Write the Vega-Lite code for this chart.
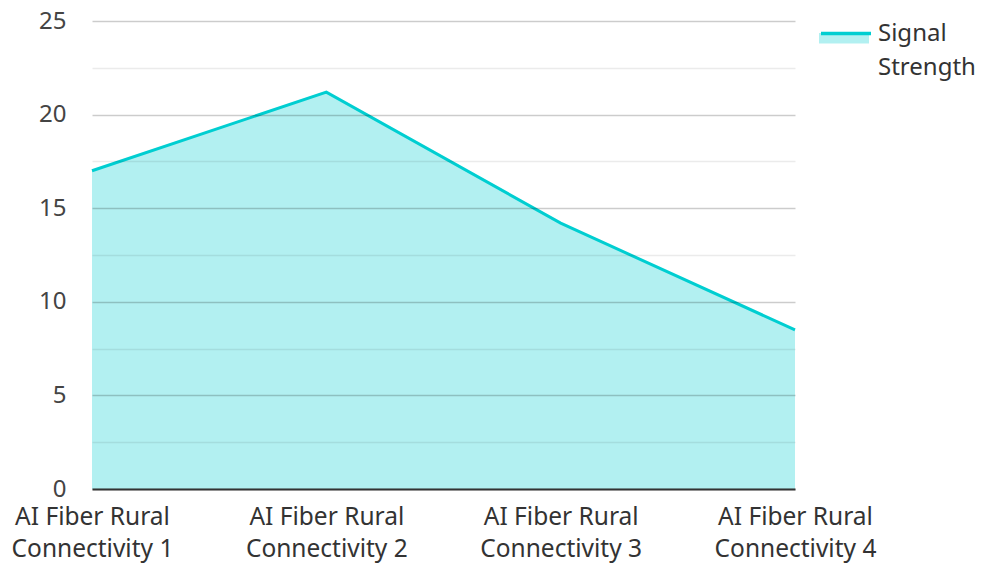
{
  "$schema": "https://vega.github.io/schema/vega-lite/v6.json",
  "width": 703,
  "height": 468,
  "autosize": "none",
  "padding": {"left": 92, "top": 21, "right": 186, "bottom": 74},
  "background": "white",
  "config": {
    "font": "Noto Sans",
    "view": {"stroke": null},
    "style": {"guide-label": {"lineHeight": 34}}
  },
  "data": {
    "values": [
      {"category": "AI Fiber Rural Connectivity 1", "value": 17.0, "series": "Signal Strength"},
      {"category": "AI Fiber Rural Connectivity 2", "value": 21.2, "series": "Signal Strength"},
      {"category": "AI Fiber Rural Connectivity 3", "value": 14.2, "series": "Signal Strength"},
      {"category": "AI Fiber Rural Connectivity 4", "value": 8.5, "series": "Signal Strength"}
    ]
  },
  "encoding": {
    "x": {
      "field": "category",
      "type": "ordinal",
      "scale": {"type": "point", "padding": 0},
      "axis": {
        "title": null,
        "labelAngle": 0,
        "labelFontSize": 24.5,
        "labelColor": "#333333",
        "labelLineHeight": 32,
        "labelPadding": 16,
        "labelExpr": "[slice(datum.label, 0, 14), slice(datum.label, 15)]",
        "ticks": false,
        "grid": false,
        "domainColor": "#333333",
        "domainWidth": 2,
        "labelOverlap": false,
        "zindex": 2
      }
    },
    "y": {
      "field": "value",
      "type": "quantitative",
      "scale": {"domain": [0, 25], "nice": false},
      "axis": {
        "title": null,
        "values": [0, 2.5, 5, 7.5, 10, 12.5, 15, 17.5, 20, 22.5, 25],
        "labelExpr": "datum.value % 5 === 0 ? datum.label : ''",
        "labelFontSize": 24,
        "labelColor": "#444444",
        "labelPadding": 26,
        "ticks": false,
        "domain": false,
        "grid": true,
        "gridColor": "black",
        "gridOpacity": {"condition": {"test": "datum.value % 5 === 0", "value": 0.2}, "value": 0.08},
        "gridWidth": 1.5,
        "zindex": 1
      }
    }
  },
  "layer": [
    {
      "mark": {"type": "area", "opacity": 0.3},
      "encoding": {
        "fill": {
          "field": "series",
          "type": "nominal",
          "scale": {"range": ["#00CED1"]},
          "legend": {
            "title": null,
            "orient": "none",
            "legendX": 727,
            "legendY": -24,
            "symbolType": "M-1,0.44H1V0.86H-1Z",
            "symbolSize": 2500,
            "symbolOpacity": 0.3,
            "symbolStrokeWidth": 0,
            "labelFontSize": 24,
            "labelColor": "#333333",
            "labelExpr": "['Signal', 'Strength']",
            "labelBaseline": "top",
            "labelOffset": 9
          }
        }
      }
    },
    {
      "mark": {"type": "line", "strokeWidth": 3},
      "encoding": {
        "stroke": {
          "field": "series",
          "type": "nominal",
          "scale": {"range": ["#00CED1"]},
          "legend": {
            "title": null,
            "orient": "none",
            "legendX": 727,
            "legendY": -24,
            "symbolType": "M-1,0.38H1",
            "symbolSize": 2500,
            "symbolStrokeWidth": 3.5,
            "labelFontSize": 24,
            "labelOpacity": 0,
            "labelExpr": "['', '']",
            "labelBaseline": "top",
            "labelOffset": 9
          }
        }
      }
    }
  ],
  "resolve": {"scale": {"fill": "independent", "stroke": "independent"}, "legend": {"fill": "independent", "stroke": "independent"}}
}
